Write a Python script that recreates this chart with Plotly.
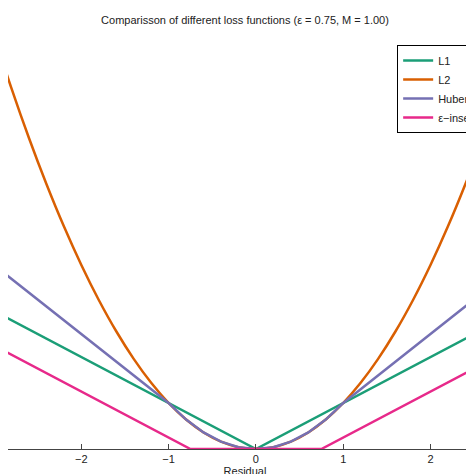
import plotly.graph_objects as go

grid_x = [-3.0,-2.8,-2.6,-2.4,-2.2,-2.0,-1.8,-1.6,-1.4,-1.2,-1.0,-0.8,-0.6,-0.4,-0.2,0.0,
          0.2,0.4,0.6,0.8,1.0,1.2,1.4,1.6,1.8,2.0,2.2,2.4,2.6,2.8,3.0]
l2_y = [9.0,7.84,6.76,5.76,4.84,4.0,3.24,2.56,1.96,1.44,1.0,0.64,0.36,0.16,0.04,0.0,
        0.04,0.16,0.36,0.64,1.0,1.44,1.96,2.56,3.24,4.0,4.84,5.76,6.76,7.84,9.0]
huber_y = [4.0,3.7,3.4,3.1,2.8,2.5,2.2,1.9,1.6,1.3,1.0,0.64,0.36,0.16,0.04,0.0,
           0.04,0.16,0.36,0.64,1.0,1.3,1.6,1.9,2.2,2.5,2.8,3.1,3.4,3.7,4.0]
l1_x = [-3.0, 0.0, 3.0]
l1_y = [3.0, 0.0, 3.0]
eps_x = [-3.0, -0.75, 0.75, 3.0]
eps_y = [2.25, 0.0, 0.0, 2.25]
x_ticks = [-2, -1, 0, 1, 2]
x_tick_labels = ["\u22122", "\u22121", "0", "1", "2"]

fig = go.Figure()
lw = 2.5
fig.add_trace(go.Scatter(x=l1_x, y=l1_y, mode="lines", name="L1", line=dict(color="#1b9e77", width=lw)))
fig.add_trace(go.Scatter(x=grid_x, y=l2_y, mode="lines", name="L2", line=dict(color="#d95f02", width=lw, shape="spline")))
fig.add_trace(go.Scatter(x=grid_x, y=huber_y, mode="lines", name="Huber", line=dict(color="#7570b3", width=lw)))
fig.add_trace(go.Scatter(x=eps_x, y=eps_y, mode="lines", name="\u03b5\u2212insensitive", line=dict(color="#e7298a", width=lw)))

fig.update_layout(
    width=474, height=474,
    margin=dict(l=0, r=0, t=27, b=33, autoexpand=False),
    paper_bgcolor="white", plot_bgcolor="white",
    font=dict(family="Liberation Sans, Arial", size=11, color="#222"),
    title=dict(text="Comparisson of different loss functions (\u03b5 = 0.75, M = 1.00)",
               x=0.5, xanchor="center", y=0.975, yanchor="middle", font=dict(size=11)),
    showlegend=True,
    legend=dict(x=0.821, y=0.976, xanchor="left", yanchor="top", bgcolor="white",
                bordercolor="black", borderwidth=1, font=dict(size=11),
                tracegroupgap=0, itemwidth=30),
    xaxis=dict(range=[-2.84, 2.59], tickvals=x_ticks, ticktext=x_tick_labels,
               ticks="inside", ticklen=5, tickcolor="#444", showgrid=False, zeroline=False,
               showline=True, linecolor="#444", linewidth=1,
               title=dict(text="Residual", standoff=0, font=dict(size=11))),
    yaxis=dict(range=[0, 9], showgrid=False, zeroline=False, showticklabels=False,
               showline=False, ticks=""),
)
fig.write_html("out.html")
